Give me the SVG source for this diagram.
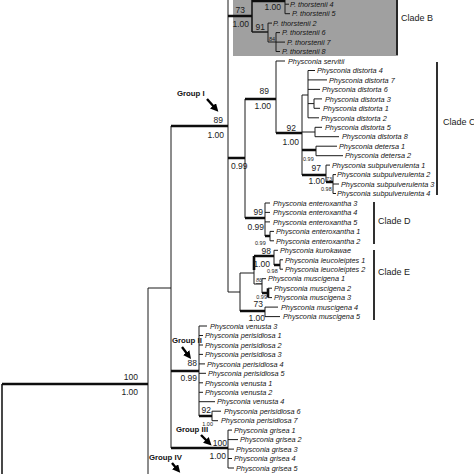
<svg xmlns="http://www.w3.org/2000/svg" width="474" height="474" viewBox="0 0 474 474">
<style>
.t{font-family:"Liberation Sans",Arial,sans-serif;font-style:italic;font-size:7.3px;fill:#141414}
.n{font-family:"Liberation Sans",Arial,sans-serif;font-size:8.5px;fill:#1a1a1a}
.s{font-family:"Liberation Sans",Arial,sans-serif;font-size:5.5px;fill:#1a1a1a}
.g{font-family:"Liberation Sans",Arial,sans-serif;font-weight:bold;font-size:7.8px;fill:#111}
.c{font-family:"Liberation Sans",Arial,sans-serif;font-size:9px;fill:#1a1a1a}
.e{stroke:#1a1a1a;stroke-width:1;fill:none}
.m{stroke:#1a1a1a;stroke-width:1.6;fill:none}
.k{stroke:#0d0d0d;stroke-width:2.6;fill:none}
.b{stroke:#1a1a1a;stroke-width:1.8;fill:none}
.a{stroke:#000;stroke-width:2.4;fill:none;marker-end:url(#ah)}
</style>
<defs>
<marker id="ah" markerWidth="9" markerHeight="8" refX="3" refY="4" orient="auto" markerUnits="userSpaceOnUse">
<path d="M0,0 L8,4 L0,8 Z" fill="#000"/>
</marker>
</defs>
<rect width="474" height="474" fill="#fff"/>
<rect id="cladeB-box" x="233" y="-1" width="165" height="57" fill="#a0a0a0"/>

<g id="connectors">
<path class="m" d="M2,384 V474" stroke="#555"/>
<path class="e" d="M148,288 V474 M148,288 H171 M171,126 V448 M228,0 V292 M245,99 V218 M276,61 V133 M302,95 V175 M308,70.5 V117.8 M302,95 H308 M308,103.6 H314 M314,98.9 V108.3 M302,132 H315 M315,127.3 V136.7 M316,146.2 V155.7 M326,165.1 V182 M333,174.6 V193.5 M265,203 V236 M270,231.4 V240.8 M228,292 H240 M240,273 V311 M240,273 H254 M254,256 V284 M274,250.3 V265 M280,259.8 V269.2 M254,284 H262 M262,278.7 V293 M265,307.1 V316.6 M199,326 V416 M212,411.2 V420.7 M228,430.1 V468 M268,23.1 V42 M268,42 H276 M276,32.6 V51.5 M285,0 V13.7"/>
<path class="m" d="M252,0 V32 M252,32 H268"/>
<path class="k" d="M2,384 H148 M171,126 H228 M228,16 H252 M252,1 H285 M245,99 H276 M276,133 H302 M228,158 H245 M302,150 H316 M302,175 H326 M326,182 H333 M245,218 H265 M265,236 H270 M254,256 H274 M254,256 V270 M274,265 H280 M262,293 H268 M268,288.2 V297.6 M240,311 H265 M171,371 H199 M199,416 H212 M171,448 H228"/>
<path class="e" d="M285,4.2 H289 M285,13.7 H290 M268,23.1 H272 M276,32.6 H280 M276,42.1 H285 M276,51.5 H280 M276,61 H285 M308,70.5 H315 M308,79.9 H327 M308,89.4 H320 M314,98.9 H322 M314,108.3 H320 M308,117.8 H319 M315,127.3 H322 M315,136.7 H339 M316,146.2 H337 M316,155.7 H343 M326,165.1 H330 M333,174.6 H336 M333,184 H339 M333,193.5 H336 M265,203 H270 M265,212.4 H270 M265,221.9 H270 M270,231.4 H274 M270,240.8 H274 M274,250.3 H278 M280,259.8 H283 M280,269.2 H283 M262,278.7 H266 M268,288.2 H272 M268,297.6 H272 M265,307.1 H278 M265,316.6 H280 M199,326 H207 M199,335.5 H203 M199,345 H203 M199,354.4 H203 M199,363.9 H205 M199,373.3 H206 M199,382.8 H203 M199,392.3 H203 M199,401.7 H215 M212,411.2 H221 M212,420.7 H218 M228,430.1 H232 M228,439.6 H238 M228,449.1 H234 M228,458.5 H232 M228,468 H234"/>
<path class="b" d="M397,0 V55 M437,62 V195 M374,202 V244 M374,250 V320"/>
<path class="a" d="M207,99 L215,108"/>
<path class="a" d="M182,347 L188,355"/>
<path class="a" d="M201,435 L208,442"/>
<path class="a" d="M172,463 L177,469"/>
</g>

<g id="leaves">
<g id="thorstenii4"><text class="t" x="290" y="6.9">P. thorstenii 4</text></g>
<g id="thorstenii5"><text class="t" x="292" y="16.4">P. thorstenii 5</text></g>
<g id="thorstenii2"><text class="t" x="273" y="25.8">P. thorstenii 2</text></g>
<g id="thorstenii6"><text class="t" x="282" y="35.3">P. thorstenii 6</text></g>
<g id="thorstenii7"><text class="t" x="287" y="44.8">P. thorstenii 7</text></g>
<g id="thorstenii8"><text class="t" x="282" y="54.2">P. thorstenii 8</text></g>
<g id="servitii"><text class="t" x="288" y="63.7">Physconia servitii</text></g>
<g id="distorta4"><text class="t" x="317" y="73.2">Physconia distorta 4</text></g>
<g id="distorta7"><text class="t" x="329" y="82.6">Physconia distorta 7</text></g>
<g id="distorta6"><text class="t" x="322" y="92.1">Physconia distorta 6</text></g>
<g id="distorta3"><text class="t" x="325" y="101.6">Physconia distorta 3</text></g>
<g id="distorta1"><text class="t" x="323" y="111">Physconia distorta 1</text></g>
<g id="distorta2"><text class="t" x="321" y="120.5">Physconia distorta 2</text></g>
<g id="distorta5"><text class="t" x="325" y="130">Physconia distorta 5</text></g>
<g id="distorta8"><text class="t" x="342" y="139.4">Physconia distorta 8</text></g>
<g id="detersa1"><text class="t" x="339" y="148.9">Physconia detersa 1</text></g>
<g id="detersa2"><text class="t" x="345" y="158.4">Physconia detersa 2</text></g>
<g id="subpulverulenta1"><text class="t" x="332" y="167.8">Physconia subpulverulenta 1</text></g>
<g id="subpulverulenta2"><text class="t" x="337" y="177.3">Physconia subpulverulenta 2</text></g>
<g id="subpulverulenta3"><text class="t" x="341" y="186.7">Physconia subpulverulenta 3</text></g>
<g id="subpulverulenta4"><text class="t" x="337" y="196.2">Physconia subpulverulenta 4</text></g>
<g id="enteroxantha3"><text class="t" x="273" y="205.7">Physconia enteroxantha 3</text></g>
<g id="enteroxantha4"><text class="t" x="273" y="215.1">Physconia enteroxantha 4</text></g>
<g id="enteroxantha5"><text class="t" x="273" y="224.6">Physconia enteroxantha 5</text></g>
<g id="enteroxantha1"><text class="t" x="276" y="234.1">Physconia enteroxantha 1</text></g>
<g id="enteroxantha2"><text class="t" x="276" y="243.5">Physconia enteroxantha 2</text></g>
<g id="kurokawae"><text class="t" x="280" y="253">Physconia kurokawae</text></g>
<g id="leucoleiptes1"><text class="t" x="285" y="262.5">Physconia leucoleiptes 1</text></g>
<g id="leucoleiptes2"><text class="t" x="285" y="271.9">Physconia leucoleiptes 2</text></g>
<g id="muscigena1"><text class="t" x="268" y="281.4">Physconia muscigena 1</text></g>
<g id="muscigena2"><text class="t" x="274" y="290.9">Physconia muscigena 2</text></g>
<g id="muscigena3"><text class="t" x="274" y="300.3">Physconia muscigena 3</text></g>
<g id="muscigena4"><text class="t" x="281" y="309.8">Physconia muscigena 4</text></g>
<g id="muscigena5"><text class="t" x="283" y="319.3">Physconia muscigena 5</text></g>
<g id="venusta3"><text class="t" x="210" y="328.7">Physconia venusta 3</text></g>
<g id="perisidiosa1"><text class="t" x="205" y="338.2">Physconia perisidiosa 1</text></g>
<g id="perisidiosa2"><text class="t" x="205" y="347.7">Physconia perisidiosa 2</text></g>
<g id="perisidiosa3"><text class="t" x="205" y="357.1">Physconia perisidiosa 3</text></g>
<g id="perisidiosa4"><text class="t" x="207" y="366.6">Physconia perisidiosa 4</text></g>
<g id="perisidiosa5"><text class="t" x="208" y="376">Physconia perisidiosa 5</text></g>
<g id="venusta1"><text class="t" x="205" y="385.5">Physconia venusta 1</text></g>
<g id="venusta2"><text class="t" x="205" y="395">Physconia venusta 2</text></g>
<g id="venusta4"><text class="t" x="217" y="404.4">Physconia venusta 4</text></g>
<g id="perisidiosa6"><text class="t" x="224" y="413.9">Physconia perisidiosa 6</text></g>
<g id="perisidiosa7"><text class="t" x="221" y="423.4">Physconia perisidiosa 7</text></g>
<g id="grisea1"><text class="t" x="234" y="432.8">Physconia grisea 1</text></g>
<g id="grisea2"><text class="t" x="240" y="442.3">Physconia grisea 2</text></g>
<g id="grisea3"><text class="t" x="236" y="451.8">Physconia grisea 3</text></g>
<g id="grisea4"><text class="t" x="234" y="461.2">Physconia grisea 4</text></g>
<g id="grisea5"><text class="t" x="236" y="470.7">Physconia grisea 5</text></g>
</g>

<g id="support">
<g id="n-root"><text class="n" x="138" y="380" text-anchor="end">100</text><text class="n" x="138" y="395" text-anchor="end">1.00</text></g>
<g id="n-groupI"><text class="n" x="223" y="123" text-anchor="end">89</text><text class="n" x="224" y="138" text-anchor="end">1.00</text></g>
<g id="n-cladeB"><text class="n" x="245" y="13" text-anchor="end">73</text><text class="n" x="249" y="27" text-anchor="end">1.00</text></g>
<g id="n-thor45"><text class="n" x="281" y="10" text-anchor="end">1.00</text></g>
<g id="n-thor91"><text class="n" x="265" y="30" text-anchor="end">91</text></g>
<g id="n-thor84"><text class="s" x="269" y="40.5">84</text></g>
<g id="n-cladeC"><text class="n" x="269" y="94" text-anchor="end">89</text><text class="n" x="271" y="109" text-anchor="end">1.00</text></g>
<g id="n-92"><text class="n" x="296" y="131" text-anchor="end">92</text><text class="n" x="299" y="145" text-anchor="end">1.00</text></g>
<g id="n-CD"><text class="n" x="231" y="169">0.99</text></g>
<g id="n-detersa"><text class="s" x="303" y="161">0.99</text></g>
<g id="n-97"><text class="n" x="321" y="171" text-anchor="end">97</text><text class="n" x="325" y="184" text-anchor="end">1.00</text></g>
<g id="n-sp73"><text class="s" x="326" y="180.5">73</text><text class="s" x="321" y="190.5">0.98</text></g>
<g id="n-cladeD"><text class="n" x="263" y="215" text-anchor="end">99</text><text class="n" x="264" y="230" text-anchor="end">0.99</text></g>
<g id="n-ent12"><text class="s" x="255" y="244.5">0.99</text></g>
<g id="n-98"><text class="n" x="271" y="254" text-anchor="end">98</text><text class="n" x="270" y="267" text-anchor="end">1.00</text><text class="s" x="267" y="273">0.98</text></g>
<g id="n-86"><text class="s" x="256" y="282" font-style="italic" text-decoration="underline">86</text></g>
<g id="n-musc23"><text class="s" x="267" y="299" text-anchor="end">0.99</text></g>
<g id="n-musc45"><text class="n" x="263" y="307" text-anchor="end">73</text><text class="n" x="265" y="320.5" text-anchor="end" font-size="8">1.00</text></g>
<g id="n-groupII"><text class="n" x="197" y="366" text-anchor="end">88</text><text class="n" x="197" y="381" text-anchor="end">0.99</text></g>
<g id="n-per67"><text class="n" x="211" y="413" text-anchor="end">92</text><text class="s" x="213" y="425.5" text-anchor="end" font-size="6">1.00</text></g>
<g id="n-groupIII"><text class="n" x="227" y="446" text-anchor="end">100</text><text class="n" x="226" y="459" text-anchor="end">1.00</text></g>
</g>

<g id="group-labels">
<g id="groupI"><text class="g" x="177" y="96">Group I</text></g>
<g id="groupII"><text class="g" x="172" y="343">Group II</text></g>
<g id="groupIII"><text class="g" x="176" y="432">Group III</text></g>
<g id="groupIV"><text class="g" x="149" y="460">Group IV</text></g>
</g>

<g id="clade-labels">
<g id="cladeB"><text class="c" x="401" y="21">Clade B</text></g>
<g id="cladeC"><text class="c" x="443" y="125">Clade C</text></g>
<g id="cladeD"><text class="c" x="378" y="224">Clade D</text></g>
<g id="cladeE"><text class="c" x="378" y="275">Clade E</text></g>
</g>
</svg>
